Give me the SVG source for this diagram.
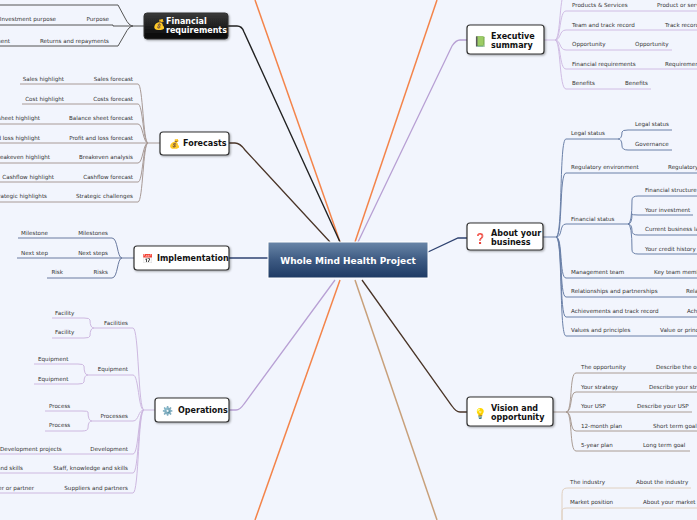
<svg xmlns="http://www.w3.org/2000/svg" width="697" height="520" viewBox="0 0 697 520">
<defs>
<linearGradient id="cg" x1="0" y1="0" x2="0" y2="1"><stop offset="0" stop-color="#6a86a8"/><stop offset="0.5" stop-color="#3d5a82"/><stop offset="1" stop-color="#1e3a64"/></linearGradient>
<linearGradient id="dg" x1="0" y1="0" x2="0" y2="1"><stop offset="0" stop-color="#3a3a3a"/><stop offset="1" stop-color="#050505"/></linearGradient>
<filter id="sh" x="-10%" y="-20%" width="130%" height="150%"><feDropShadow dx="1" dy="1" stdDeviation="1" flood-opacity="0.35"/></filter>
</defs>
<style>
text{font-family:"DejaVu Sans",Verdana,sans-serif;fill:#333}
.t{font-size:5.6px}
.r{text-anchor:end}
.n{font-size:8px;font-weight:bold;fill:#111}
.box{fill:#fff;stroke:#333;stroke-width:1.2;filter:url(#sh)}
path{fill:none}
.fr{stroke:#555;stroke-width:1}
.fc{stroke:#a89a96;stroke-width:1}
.im{stroke:#6a7aa0;stroke-width:1}
.op{stroke:#cdb8e0;stroke-width:1}
.ex{stroke:#d0bce4;stroke-width:1}
.ab{stroke:#6a80a8;stroke-width:1}
.vi{stroke:#aa9c94;stroke-width:1}
.bt{stroke:#e0d0c0;stroke-width:1}
</style>
<rect width="697" height="520" fill="#f2f5fd"/>
<g id="connectors">
<path d="M255,0 L340,242" stroke="#f4844a" stroke-width="1.5"/>
<path d="M437,0 L355,242" stroke="#f4844a" stroke-width="1.5"/>
<path d="M340,280 L255,520" stroke="#f4844a" stroke-width="1.5"/>
<path d="M355,280 L437,520" stroke="#c8a07a" stroke-width="1.5"/>
<path d="M228,26 H237 Q242,26 244,32 L340,242" stroke="#222" stroke-width="1.4"/>
<path d="M229,143 H235 Q240,143 245,150 L330,242" stroke="#4a3528" stroke-width="1.3"/>
<path d="M229,258 H268" stroke="#2e4270" stroke-width="1.3"/>
<path d="M229,410 H236 Q240,410 244,404 L335,280" stroke="#b8a0d4" stroke-width="1.3"/>
<path d="M467,40 H460 Q456,40 452,46 L358,242" stroke="#b8a0d4" stroke-width="1.3"/>
<path d="M428,252 L458,238 H467" stroke="#2e4270" stroke-width="1.3"/>
<path d="M467,412 H460 Q456,412 452,406 L362,280" stroke="#4a3528" stroke-width="1.3"/>
</g>
<g id="center">
<rect x="268" y="242" width="160" height="36" fill="url(#cg)" stroke="#fff" stroke-width="1"/>
<text x="348" y="264" text-anchor="middle" style="font-size:9px;font-weight:bold;fill:#fff">Whole Mind Health Project</text>
</g>
<g id="financial-requirements">
<path class="fr" d="M144,26 H133 Q129,26 125,18 L118,5 H0 M133,26 H113 V25 H0 M133,26 Q129,26 125,34 L118,46 H0"/>
<rect x="144" y="13" width="84" height="26" rx="3" fill="url(#dg)" stroke="#333" filter="url(#sh)"/>
<text x="153" y="28" style="font-size:10px">💰</text>
<text x="166" y="24" class="n" style="fill:#fff">Financial</text><text x="166" y="33" class="n" style="fill:#fff">requirements</text>
<text x="109" y="0" class="t r">Schedule</text><text x="52" y="0" class="t r">Investment schedule</text>
<text x="109" y="21" class="t r">Purpose</text><text x="56" y="21" class="t r">Investment purpose</text>
<text x="109" y="43" class="t r">Returns and repayments</text><text x="10" y="43" class="t r">Repayment</text>
</g>
<g id="forecasts">
<path class="fc" d="M160,143 H148 M148,143 C143,143 143,84 138,84 H20 M148,143 C143,143 143,104 138,104 H22 M148,143 C143,143 143,124 138,124 H0 M148,143 H0 M148,143 C143,143 143,163 138,163 H0 M148,143 C143,143 143,182 138,182 H0 M148,143 C143,143 143,202 138,202 H0"/>
<rect x="160" y="132" width="69" height="23" rx="3" class="box"/>
<text x="169" y="147" style="font-size:9px">💰</text>
<text x="183" y="146" class="n">Forecasts</text>
<text x="133" y="81" class="t r">Sales forecast</text><text x="64" y="81" class="t r">Sales highlight</text>
<text x="133" y="101" class="t r">Costs forecast</text><text x="64" y="101" class="t r">Cost highlight</text>
<text x="133" y="120" class="t r">Balance sheet forecast</text><text x="40" y="120" class="t r">Balance sheet highlight</text>
<text x="133" y="140" class="t r">Profit and loss forecast</text><text x="40" y="140" class="t r">Profit and loss highlight</text>
<text x="133" y="159" class="t r">Breakeven analysis</text><text x="50" y="159" class="t r">Breakeven highlight</text>
<text x="133" y="179" class="t r">Cashflow forecast</text><text x="54" y="179" class="t r">Cashflow highlight</text>
<text x="133" y="198" class="t r">Strategic challenges</text><text x="47" y="198" class="t r">Strategic highlights</text>
</g>
<g id="implementation">
<path class="im" d="M134,258 H122 C117,258 118,238 112,238 H18 M122,258 H17 M122,258 C117,258 118,278 112,278 H47"/>
<rect x="134" y="246" width="95" height="24" rx="3" class="box"/>
<text x="142" y="262" style="font-size:9px">📅</text>
<text x="157" y="261" class="n">Implementation</text>
<text x="108" y="235" class="t r">Milestones</text><text x="48" y="235" class="t r">Milestone</text>
<text x="108" y="255" class="t r">Next steps</text><text x="48" y="255" class="t r">Next step</text>
<text x="108" y="274" class="t r">Risks</text><text x="63" y="274" class="t r">Risk</text>
</g>
<g id="operations">
<path class="op" d="M155,410 H144 M144,410 C138,410 139,328 133,328 H94 Q90,328 90,320 Q90,318 84,318 H52 M94,328 Q90,328 90,336 Q90,338 84,338 H52 M144,410 C138,410 139,375 133,375 H88 Q84,375 84,366 Q84,364 78,364 H34 M88,375 Q84,375 84,382 Q84,384 78,384 H34 M144,410 C138,410 139,421 133,421 H92 Q88,421 88,412 Q88,411 82,411 H45 M92,421 Q88,421 88,428 Q88,431 82,431 H45 M144,410 C138,410 139,454 133,454 H0 M144,410 C138,410 139,473 133,473 H0 M144,410 C138,410 139,493 133,493 H0"/>
<rect x="155" y="398" width="74" height="24" rx="3" class="box"/>
<text x="162" y="414" style="font-size:9px">⚙️</text>
<text x="178" y="413" class="n">Operations</text>
<text x="128" y="325" class="t r">Facilities</text><text x="55" y="315" class="t">Facility</text><text x="55" y="334" class="t">Facility</text>
<text x="128" y="371" class="t r">Equipment</text><text x="38" y="361" class="t">Equipment</text><text x="38" y="381" class="t">Equipment</text>
<text x="128" y="418" class="t r">Processes</text><text x="49" y="408" class="t">Process</text><text x="49" y="427" class="t">Process</text>
<text x="128" y="451" class="t r">Development</text><text x="0" y="451" class="t">Development projects</text>
<text x="128" y="470" class="t r">Staff, knowledge and skills</text><text x="23" y="470" class="t r">Knowledge and skills</text>
<text x="128" y="490" class="t r">Suppliers and partners</text><text x="34" y="490" class="t r">Supplier or partner</text>
</g>
<g id="executive-summary">
<path class="ex" d="M544,40 H555 M555,40 C561,40 559,11 566,11 H697 M555,40 C561,40 559,30 566,30 H697 M555,40 C561,40 559,50 566,50 H672 M555,40 C561,40 559,69 566,69 H697 M555,40 C561,40 559,89 566,89 H651 M555,40 C561,40 559,-9 566,-9"/>
<rect x="467" y="25" width="77" height="29" rx="3" class="box"/>
<text x="474" y="45" style="font-size:10px">📗</text>
<text x="491" y="39" class="n">Executive</text><text x="491" y="48" class="n">summary</text>
<text x="572" y="7" class="t">Products &amp; Services</text><text x="657" y="7" class="t">Product or service</text>
<text x="572" y="27" class="t">Team and track record</text><text x="665" y="27" class="t">Track record</text>
<text x="572" y="46" class="t">Opportunity</text><text x="635" y="46" class="t">Opportunity</text>
<text x="572" y="66" class="t">Financial requirements</text><text x="665" y="66" class="t">Requirements</text>
<text x="572" y="85" class="t">Benefits</text><text x="625" y="85" class="t">Benefits</text>
</g>
<g id="about-your-business">
<path class="ab" d="M543,237 H556 M556,237 C563,237 559,139 566,139 H618 Q622,139 622,132 Q622,130 628,130 H672 M618,139 Q622,139 622,146 Q622,150 628,150 H672 M556,237 C563,237 559,173 566,173 H697 M556,237 C563,237 559,224 566,224 H628 Q632,224 632,200 Q632,196 638,196 H697 M628,224 Q632,224 632,214 Q632,215 638,215 H693 M628,224 Q632,224 632,231 Q632,235 638,235 H697 M628,224 Q632,224 632,250 Q632,254 638,254 H697 M556,237 C563,237 559,278 566,278 H697 M556,237 C563,237 559,297 566,297 H697 M556,237 C563,237 559,317 566,317 H697 M556,237 C563,237 559,336 566,336 H697"/>
<rect x="467" y="223" width="76" height="27" rx="3" class="box"/>
<text x="474" y="242" style="font-size:10px">❓</text>
<text x="491" y="236" class="n">About your</text><text x="491" y="245" class="n">business</text>
<text x="571" y="135" class="t">Legal status</text><text x="635" y="126" class="t">Legal status</text><text x="635" y="146" class="t">Governance</text>
<text x="571" y="169" class="t">Regulatory environment</text><text x="668" y="169" class="t">Regulatory</text>
<text x="571" y="221" class="t">Financial status</text>
<text x="645" y="192" class="t">Financial structure</text><text x="645" y="212" class="t">Your investment</text><text x="645" y="231" class="t">Current business latest</text><text x="645" y="251" class="t">Your credit history</text>
<text x="571" y="274" class="t">Management team</text><text x="654" y="274" class="t">Key team members</text>
<text x="571" y="293" class="t">Relationships and partnerships</text><text x="686" y="293" class="t">Relationships</text>
<text x="571" y="313" class="t">Achievements and track record</text><text x="687" y="313" class="t">Achievements</text>
<text x="571" y="332" class="t">Values and principles</text><text x="660" y="332" class="t">Value or principles</text>
</g>
<g id="vision-and-opportunity">
<path class="vi" d="M553,412 H566 M566,412 C573,412 569,373 576,373 H697 M566,412 C573,412 569,392 576,392 H697 M566,412 H692 M566,412 C573,412 569,431 576,431 H697 M566,412 C573,412 569,451 576,451 H690"/>
<rect x="467" y="397" width="86" height="29" rx="3" class="box"/>
<text x="474" y="417" style="font-size:10px">💡</text>
<text x="491" y="411" class="n">Vision and</text><text x="491" y="420" class="n">opportunity</text>
<text x="581" y="369" class="t">The opportunity</text><text x="656" y="369" class="t">Describe the opportunity</text>
<text x="581" y="389" class="t">Your strategy</text><text x="649" y="389" class="t">Describe your strategy</text>
<text x="581" y="408" class="t">Your USP</text><text x="637" y="408" class="t">Describe your USP</text>
<text x="581" y="428" class="t">12-month plan</text><text x="653" y="428" class="t">Short term goal</text>
<text x="581" y="447" class="t">5-year plan</text><text x="643" y="447" class="t">Long term goal</text>
</g>
<g id="market">
<path class="bt" d="M562,520 V496 C562,488 564,488 570,488 H691 M562,520 V512 C562,508 564,508 570,508 H697"/>
<text x="570" y="484" class="t">The industry</text><text x="636" y="484" class="t">About the industry</text>
<text x="570" y="504" class="t">Market position</text><text x="643" y="504" class="t">About your market</text>
</g>
</svg>
